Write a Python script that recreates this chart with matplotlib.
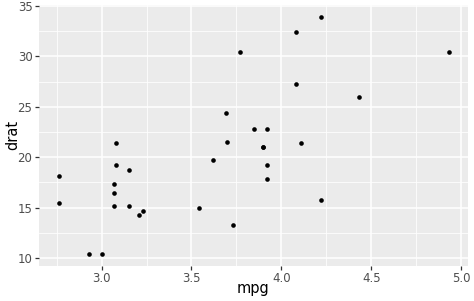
import matplotlib
matplotlib.use("Agg")
import matplotlib.pyplot as plt

mpg_vals = [3.90, 3.90, 3.85, 3.08, 3.15, 2.76, 3.21, 3.69, 3.92, 3.92, 3.92, 3.07, 3.07, 3.07,
            2.93, 3.00, 3.23, 4.08, 4.93, 4.22, 3.70, 2.76, 3.15, 3.73, 3.08, 4.08, 4.43, 3.77,
            4.22, 3.62, 3.54, 4.11]
drat_vals = [21.0, 21.0, 22.8, 21.4, 18.7, 18.1, 14.3, 24.4, 22.8, 19.2, 17.8, 16.4, 17.3, 15.2,
             10.4, 10.4, 14.7, 32.4, 30.4, 33.9, 21.5, 15.5, 15.2, 13.3, 19.2, 27.3, 26.0, 30.4,
             15.8, 19.7, 15.0, 21.4]
x_ticks = [3.0, 3.5, 4.0, 4.5, 5.0]
x_tick_labels = ["3.0", "3.5", "4.0", "4.5", "5.0"]
y_ticks = [10, 15, 20, 25, 30, 35]
y_tick_labels = ["10", "15", "20", "25", "30", "35"]

W, H = 474, 301
fig = plt.figure(figsize=(W / 100, H / 100), dpi=100)
left, right, top, bottom = 39, 468, 5.2, 265.8
ax = fig.add_axes([left / W, 1 - bottom / H, (right - left) / W, (bottom - top) / H])
ax.set_facecolor("#EBEBEB")
for s in ax.spines.values():
    s.set_visible(False)

ax.set_xticks(x_ticks)
ax.set_xticklabels(x_tick_labels)
ax.set_yticks(y_ticks)
ax.set_yticklabels(y_tick_labels)
minor_x = [(a + b) / 2 for a, b in zip([2.5] + x_ticks, x_ticks + [5.5])]
minor_y = [(a + b) / 2 for a, b in zip([5] + y_ticks, y_ticks + [40])]
ax.set_xticks(minor_x, minor=True)
ax.set_yticks(minor_y, minor=True)

xmin, xmax = min(mpg_vals), max(mpg_vals)
ymin, ymax = min(drat_vals), max(drat_vals)
dx, dy = (xmax - xmin) * 0.05, (ymax - ymin) * 0.05
ax.set_xlim(xmin - dx, xmax + dx)
ax.set_ylim(ymin - dy, ymax + dy)

ax.grid(which="major", color="white", linewidth=1.1)
ax.grid(which="minor", color="white", linewidth=0.55)
ax.set_axisbelow(True)
ax.tick_params(which="minor", length=0)
ax.tick_params(which="major", length=2.7, width=0.9, color="#333333",
               labelsize=8.5, labelcolor="#4D4D4D", pad=2)

ax.scatter(mpg_vals, drat_vals, s=11, color="black", zorder=3, linewidths=0)
ax.set_xlabel("mpg", fontsize=10.5, color="black")
ax.set_ylabel("drat", fontsize=10.5, color="black")
aw, ah = right - left, bottom - top
ax.xaxis.set_label_coords((253 - left) / aw, -(281 - bottom) / ah)
ax.yaxis.set_label_coords((20 - left) / aw, (bottom - 135) / ah)

fig.savefig("out.png", dpi=100, facecolor="white")
